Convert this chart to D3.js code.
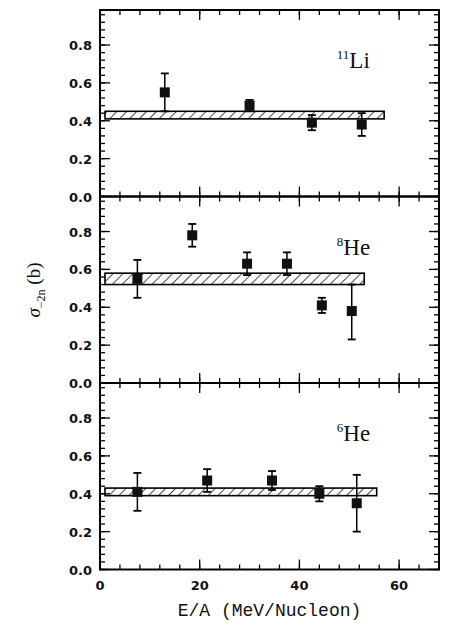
<!DOCTYPE html>
<html lang="en">
<head>
<meta charset="UTF-8">
<script src="https://d3js.org/d3.v7.min.js"></script>
<style>body{margin:0;background:#fff}</style>
</head>
<body>
<svg width="474" height="632"></svg>
<script>
// data per panel: [E/A, sigma, errLow, errHigh]
const li11Points = [[13, 0.55, 0.10, 0.10], [30, 0.48, 0.03, 0.03], [42.5, 0.39, 0.04, 0.04], [52.5, 0.38, 0.06, 0.06]];
const he8Points = [[7.5, 0.55, 0.10, 0.10], [18.5, 0.78, 0.06, 0.06], [29.5, 0.63, 0.06, 0.06], [37.5, 0.63, 0.06, 0.06], [44.5, 0.41, 0.04, 0.04], [50.5, 0.38, 0.15, 0.14]];
const he6Points = [[7.5, 0.41, 0.10, 0.10], [21.5, 0.47, 0.06, 0.06], [34.5, 0.47, 0.05, 0.05], [44, 0.40, 0.04, 0.04], [51.5, 0.35, 0.15, 0.15]];
// bands: [xStart, xEnd, yLow, yHigh]
const li11Band = [1, 57, 0.41, 0.45];
const he8Band = [1, 53, 0.52, 0.58];
const he6Band = [1, 55.5, 0.39, 0.43];
const panels = [
  {mass: "11", el: "Li", pts: li11Points, band: li11Band},
  {mass: "8", el: "He", pts: he8Points, band: he8Band},
  {mass: "6", el: "He", pts: he6Points, band: he6Band}
];
const xTicks = [0, 20, 40, 60];
const yTicks = [0, 0.2, 0.4, 0.6, 0.8];

const svg = d3.select("svg");
const left = 100, right = 439, top0 = 10, ph = 186.5;
const x = d3.scaleLinear().domain([0, 68]).range([left, right]);

const defs = svg.append("defs");
defs.append("pattern").attr("id", "hatch").attr("patternUnits", "userSpaceOnUse")
  .attr("width", 7).attr("height", 7).attr("patternTransform", "rotate(45)")
  .append("line").attr("x1", 0).attr("y1", 0).attr("x2", 0).attr("y2", 7)
  .attr("stroke", "#000").attr("stroke-width", 1.4);

panels.forEach((p, i) => {
  const t = top0 + i * ph, b = t + ph;
  const y = d3.scaleLinear().domain([0, 0.985]).range([b, t]);
  const g = svg.append("g");

  // inward ticks on all four sides
  const minorX = d3.range(0, 69, 4), minorY = d3.range(0, 0.99, 0.04);
  const tk = g.append("g").attr("stroke", "#000").attr("stroke-width", 1.3);
  const xt = [...minorX.map(v => [v, 5]), ...xTicks.map(v => [v, 10])];
  const ytk = [...minorY.map(v => [v, 5]), ...yTicks.map(v => [v, 10])];
  tk.selectAll(".xb").data(xt).join("line").attr("x1", d => x(d[0])).attr("x2", d => x(d[0])).attr("y1", b).attr("y2", d => b - d[1]);
  tk.selectAll(".xt").data(xt).join("line").attr("x1", d => x(d[0])).attr("x2", d => x(d[0])).attr("y1", t).attr("y2", d => t + d[1]);
  tk.selectAll(".yl").data(ytk).join("line").attr("y1", d => y(d[0])).attr("y2", d => y(d[0])).attr("x1", left).attr("x2", d => left + d[1]);
  tk.selectAll(".yr").data(ytk).join("line").attr("y1", d => y(d[0])).attr("y2", d => y(d[0])).attr("x1", right).attr("x2", d => right - d[1]);

  g.selectAll(".ylab").data(yTicks).join("text").attr("x", left - 8).attr("y", d => y(d) + 5)
    .attr("text-anchor", "end").attr("font-family", "DejaVu Sans").attr("font-weight", "bold")
    .attr("font-size", 13).attr("fill", "#111").text(d3.format(".1f"));
  if (i === 2) {
    g.selectAll(".xlab").data(xTicks).join("text").attr("x", d => x(d)).attr("y", b + 20)
      .attr("text-anchor", "middle").attr("font-family", "DejaVu Sans").attr("font-weight", "bold")
      .attr("font-size", 13).attr("fill", "#111").text(d3.format("d"));
  }

  // band
  g.append("rect").attr("x", x(p.band[0])).attr("width", x(p.band[1]) - x(p.band[0]))
    .attr("y", y(p.band[3])).attr("height", y(p.band[2]) - y(p.band[3]))
    .attr("fill", "url(#hatch)").attr("stroke", "#000").attr("stroke-width", 1.6);

  // error bars and points
  const pts = g.selectAll(".pt").data(p.pts).join("g");
  pts.append("line").attr("x1", d => x(d[0])).attr("x2", d => x(d[0]))
    .attr("y1", d => y(d[1] - d[2])).attr("y2", d => y(d[1] + d[3])).attr("stroke", "#000").attr("stroke-width", 1.5);
  [2, 3].forEach(k => pts.append("line")
    .attr("x1", d => x(d[0]) - 4).attr("x2", d => x(d[0]) + 4)
    .attr("y1", d => y(d[1] + (k === 3 ? d[3] : -d[2]))).attr("y2", d => y(d[1] + (k === 3 ? d[3] : -d[2])))
    .attr("stroke", "#000").attr("stroke-width", 1.8));
  pts.append("rect").attr("x", d => x(d[0]) - 5).attr("y", d => y(d[1]) - 5)
    .attr("width", 10).attr("height", 10).attr("fill", "#111");

  // frame
  g.append("rect").attr("x", left).attr("y", t).attr("width", right - left).attr("height", ph)
    .attr("fill", "none").attr("stroke", "#000").attr("stroke-width", 2);

  // isotope label
  const lab = g.append("text").attr("x", x(47.5)).attr("y", t + 58)
    .attr("font-family", "Liberation Serif").attr("font-size", 23).attr("fill", "#111");
  lab.append("tspan").attr("font-size", 13).attr("dy", -9).text(p.mass);
  lab.append("tspan").attr("dy", 9).text(p.el);
});

svg.append("text").attr("x", x(34)).attr("y", 616).attr("text-anchor", "middle")
  .attr("font-family", "Liberation Mono").attr("font-size", 18).attr("fill", "#111")
  .text("E/A (MeV/Nucleon)");
const yt = svg.append("text").attr("transform", "translate(40,290) rotate(-90)").attr("text-anchor", "middle")
  .attr("font-family", "Liberation Serif").attr("font-size", 19).attr("fill", "#111");
yt.append("tspan").attr("font-style", "italic").text("σ");
yt.append("tspan").attr("font-size", 12).attr("dy", 5).text("−2n");
yt.append("tspan").attr("dy", -5).text(" (b)");
</script>
</body>
</html>
